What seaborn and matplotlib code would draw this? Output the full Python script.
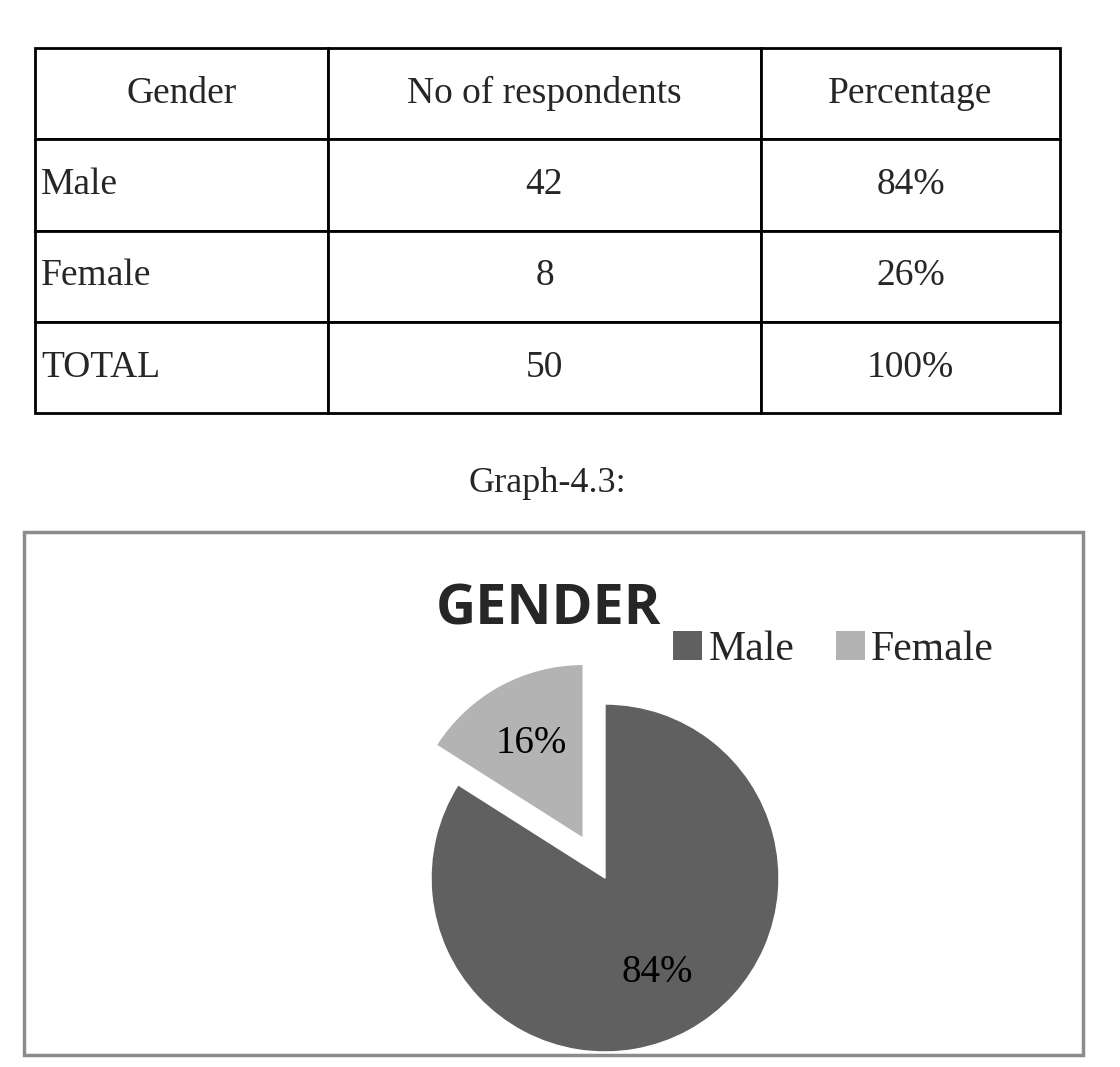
import matplotlib
matplotlib.use("Agg")
import matplotlib.pyplot as plt
from matplotlib.patches import Rectangle, Patch
import seaborn as sns

# table data
headers = ["Gender", "No of respondents", "Percentage"]
genders = ["Male", "Female", "TOTAL"]
respondents = ["42", "8", "50"]
percentages = ["84%", "26%", "100%"]

# pie data
pie_labels = ["Male", "Female"]
pie_counts = [42, 8]
pie_colors = ["#606060", "#b3b3b3"]

sns.set_theme(style="white")
plt.rcParams["font.family"] = ["Liberation Serif", "DejaVu Serif"]

W, H = 1120, 1067
fig = plt.figure(figsize=(W / 100, H / 100), dpi=100)
fig.patch.set_facecolor("white")

def fx(x): return x / W
def fy(y): return 1 - y / H

# ---- table ----
tab_ax = fig.add_axes([0, 0, 1, 1])
tab_ax.axis("off")
cells = [[g, r, p] for g, r, p in zip(genders, respondents, percentages)]
tbl = tab_ax.table(cellText=cells, colLabels=headers,
                   bbox=[fx(35), fy(413), fx(1060) - fx(35), fy(48) - fy(413)])
tbl.auto_set_font_size(False)
col_w = [293, 433, 299]
for (r, c), cell in tbl.get_celld().items():
    cell.set_linewidth(2)
    cell.set_edgecolor("black")
    cell.set_width(col_w[c] / W)
    cell.get_text().set_fontsize(27)
    if r > 0 and c == 0:
        cell.get_text().set_ha("left")
        cell.PAD = 0.02
    else:
        cell.get_text().set_ha("center")

fig.text(fx(547), fy(483), "Graph-4.3:", ha="center", va="center", fontsize=26)

# ---- chart frame ----
fig.patches.append(Rectangle((fx(24), fy(1055)), fx(1083) - fx(24), fy(532) - fy(1055),
                             transform=fig.transFigure, fill=False,
                             edgecolor="#8c8c8c", linewidth=2.5))

# ---- pie ----
R = 174
cx, cy = 605, 878
lim = 1.4
size = 2 * lim * R
pie_ax = fig.add_axes([fx(cx - size / 2), fy(cy + size / 2), size / W, size / H])
pie_ax.pie(pie_counts, colors=pie_colors, startangle=90, counterclock=False,
           explode=[0, 0.26], autopct=lambda p: f"{round(p)}%", pctdistance=0.62,
           textprops=dict(fontsize=28, color="black"))
pie_ax.set_xlim(-lim, lim)
pie_ax.set_ylim(-lim, lim)
pie_ax.set_aspect("equal")
pie_ax.axis("off")

fig.text(fx(548), fy(610), "GENDER", ha="center", va="center", fontsize=40,
         fontweight="bold", family=["Open Sans", "DejaVu Sans"])

handles = [Patch(facecolor=c, edgecolor="none") for c in pie_colors]
fig.legend(handles, pie_labels, loc="center left", bbox_to_anchor=(fx(652), fy(650)),
           ncol=2, frameon=False, fontsize=30, handlelength=0.7, handleheight=0.7,
           handletextpad=0.15, columnspacing=1.0, borderpad=0)

fig.savefig("out.png", dpi=100)
